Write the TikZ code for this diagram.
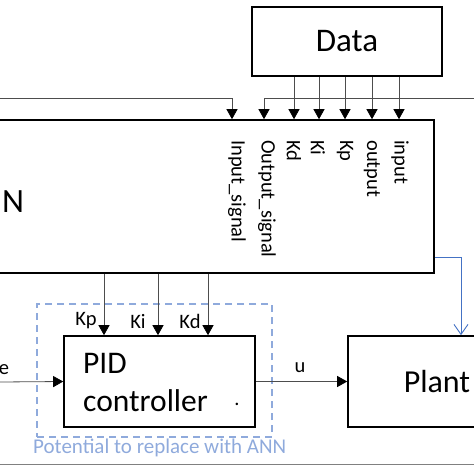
\documentclass[tikz,border=0pt]{standalone}
\usepackage{fontspec}
\setmainfont{Carlito}
\usetikzlibrary{arrows.meta}
\definecolor{zoneblue}{HTML}{8FAADC}
\definecolor{ctrlblue}{HTML}{4472C4}
\definecolor{feedgray}{HTML}{4D4D4D}
\begin{document}
\begin{tikzpicture}
[x=1pt, y=-1pt,
 blockbox/.style={draw=black, line width=1.6pt, inner sep=0pt},
 feed/.style={draw=feedgray, line width=0.8pt, -{Triangle[width=11pt,length=10pt,color=black]}},
 ctrl/.style={draw=ctrlblue, line width=0.9pt, -{Straight Barb[width=14pt,length=10pt]}},
 zone/.style={draw=zoneblue, dashed, dash pattern=on 7pt off 5pt, line width=1.4pt},
 sig/.style={rotate=-90, anchor=west, inner sep=0pt, font=\fontsize{20.5}{24}\selectfont},
 gain/.style={inner sep=0pt, font=\fontsize{20.5}{24}\selectfont}]
\useasboundingbox (0,0) rectangle (474,474);
% Define the blocks
\node[blockbox, minimum width=190pt, minimum height=69pt, font=\fontsize{33}{38}\selectfont] (data) at (347,41.5) {Data};
\node[blockbox, minimum width=470pt, minimum height=153pt] (ann) at (199,196.5) {};
\node[font=\fontsize{34}{40}\selectfont, inner sep=0pt] (annname) at (13,202) {N};
\node[zone, minimum width=235pt, minimum height=133pt] (annzone) at (154.5,370.5) {};
\node[text=zoneblue, anchor=north west, inner sep=0pt, font=\fontsize{21}{24}\selectfont] (zonelabel) at (33,439) {Potential to replace with ANN};
\node[blockbox, minimum width=191pt, minimum height=91pt] (pid) at (159.5,381.5) {};
\node[anchor=north west, align=left, inner sep=0pt, font=\fontsize{31.5}{38}\selectfont] (pidname) at (83,353) {PID\\controller};
\node[gain] (piddot) at (237,404) {.};
\node[blockbox, minimum width=178pt, minimum height=91pt, font=\fontsize{32}{38}\selectfont] (plant) at (437,381.5) {Plant};

% Inputs of the network
\foreach \x/\name in {237/Input\_signal, 267/Output\_signal, 294/Kd, 318/Ki, 345/Kp, 372/output, 400/input}
  \node[sig] (sig\x) at (\x,140) {\name};
\foreach \x in {294,319,345,372,399}
  \draw[feed] (\x,0 |- data.south) -- (\x,0 |- ann.north);
\coordinate (fbleft) at (0,98);
\coordinate (fbright) at (474,98);
\draw[feed] (fbleft) -| (232,0 |- ann.north);
\draw[feed] (fbright) -| (264,0 |- ann.north);

% Gains to the controller
\foreach \lx/\x/\k in {86/104/Kp, 138/158/Ki, 190/208/Kd} {
  \draw[feed] (\x,0 |- ann.south) -- (\x,0 |- pid.north);
  \node[gain] (gain\k) at (\lx,321) {\k};
}

% Loop signals
\coordinate (ein) at (0,382);
\draw[feed] (ein) -- (pid.west);
\node[gain] (elabel) at (4,370) {e};
\draw[feed] (pid.east) -- (plant.west);
\node[gain] (ulabel) at (300,368) {u};
\coordinate (tap) at (461,257);
\draw[ctrl] (tap -| ann.east) -- (tap) -- (tap |- plant.north);

\coordinate (baseleft) at (0,464);
\coordinate (baseright) at (474,464);
\draw[draw=gray, line width=1pt] (baseleft) -- (baseright);
\end{tikzpicture}
\end{document}
